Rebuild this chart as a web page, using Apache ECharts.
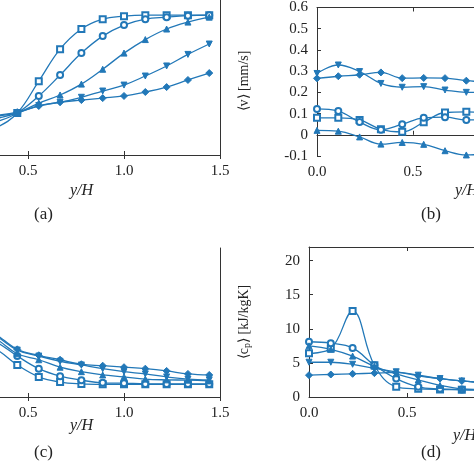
<!DOCTYPE html><html><head><meta charset="utf-8">
<script src="https://cdn.jsdelivr.net/npm/echarts@6/dist/echarts.min.js"></script>
<style>html,body{margin:0;padding:0;background:#fff}#c{width:474px;height:474px}</style></head><body><div id="c"></div>
<script>
const xs=[0,0.111,0.222,0.333,0.444,0.556,0.667,0.778,0.889,1.0,1.111,1.222,1.333,1.444];
const xTicks=[0,0.5,1.0,1.5];
// panel a (arbitrary units, left part cropped)
const aSq=[0.09,0.10,0.12,0.164,0.255,0.448,0.642,0.764,0.824,0.842,0.848,0.848,0.848,0.848];
const aCi=[0.13,0.14,0.16,0.20,0.255,0.358,0.485,0.618,0.721,0.788,0.824,0.836,0.845,0.848];
const aTu=[0.16,0.17,0.19,0.22,0.255,0.315,0.364,0.43,0.52,0.618,0.70,0.764,0.806,0.836];
const aTd=[0.20,0.21,0.22,0.235,0.255,0.30,0.32,0.35,0.388,0.424,0.479,0.54,0.61,0.673];
const aDi=[0.22,0.225,0.23,0.24,0.26,0.297,0.32,0.333,0.345,0.358,0.382,0.412,0.455,0.497];
// panel b  <v> [mm/s]
const bSq=[0.08,0.08,0.07,0.026,0.014,0.059,0.105,0.108,0.10,0.09,0.08,0.08,0.08,0.08];
const bCi=[0.122,0.112,0.06,0.024,0.05,0.08,0.083,0.07,0.07,0.07,0.07,0.07,0.07,0.07];
const bTu=[0.021,0.017,-0.01,-0.044,-0.036,-0.045,-0.075,-0.095,-0.09,-0.08,-0.08,-0.08,-0.08,-0.08];
const bTd=[0.289,0.329,0.298,0.242,0.224,0.227,0.211,0.2,0.2,0.2,0.2,0.2,0.2,0.2];
const bDi=[0.266,0.276,0.283,0.294,0.267,0.268,0.267,0.255,0.25,0.25,0.25,0.25,0.25,0.25];
// panel c (arbitrary units)
const cSq=[0.40,0.39,0.37,0.32,0.215,0.135,0.10,0.088,0.085,0.085,0.085,0.085,0.085,0.085];
const cCi=[0.48,0.46,0.43,0.37,0.275,0.19,0.14,0.113,0.095,0.093,0.088,0.088,0.088,0.088];
const cTu=[0.52,0.50,0.46,0.39,0.29,0.25,0.20,0.17,0.148,0.135,0.12,0.115,0.113,0.108];
const cTd=[0.55,0.53,0.48,0.41,0.315,0.275,0.24,0.215,0.19,0.17,0.155,0.135,0.12,0.115];
const cDi=[0.58,0.55,0.50,0.42,0.32,0.28,0.25,0.22,0.21,0.20,0.19,0.175,0.155,0.148];
// panel d <c_p> [kJ/kgK]
const dSq=[6.4,7.1,12.6,4.66,1.5,1.2,1.1,1.05,1.0,1.0,1.0,1.0,1.0,1.0];
const dCi=[8.1,7.9,7.2,4.66,2.7,1.5,1.2,1.1,1.05,1.0,1.0,1.0,1.0,1.0];
const dTu=[7.5,7.0,6.0,4.5,3.4,2.5,1.7,1.2,1.1,1.05,1.0,1.0,1.0,1.0];
const dTd=[5.1,5.1,4.8,4.2,3.7,3.2,2.7,2.35,2.1,1.9,1.8,1.7,1.6,1.5];
const dDi=[3.2,3.3,3.4,3.5,3.6,3.1,2.7,2.35,2.1,1.95,1.85,1.75,1.65,1.6];

const C='#2278b8';
const F='Liberation Serif';
const syms=['emptyRect','emptyCircle','triangle','path://M0,0 L10,0 L5,10 Z','diamond'];
function mk(idx,arrs){return arrs.map((a,i)=>({type:'line',xAxisIndex:idx,yAxisIndex:idx,smooth:0.4,clip:true,
 data:xs.map((x,j)=>[x,a[j]]),symbol:syms[i],symbolSize:i===4?7:6,showSymbol:true,
 lineStyle:{color:C,width:1.3},itemStyle:{color:C,borderColor:C,borderWidth:1},z:5}));}
// visible x-range of each cropped panel
const xr=[[0.354,1.5],[0,0.818],[0.354,1.5],[0,0.84]];
const grids=[
 {left:0,width:220,top:0,height:155},
 {left:317,width:157,top:6,height:150},
 {left:0,width:220,top:248,height:149},
 {left:309,width:165,top:247,height:150}];
const tick={show:true,inside:true,length:4,lineStyle:{color:'#333'}};
const lab={fontFamily:F,fontSize:15,color:'#222',margin:9};
const line={show:true,lineStyle:{color:'#333',width:1}};
function xa(i,pos,show){return {type:'value',gridIndex:i,position:pos,min:xr[i][0],max:xr[i][1],axisLine:line,
 axisTick:Object.assign({customValues:xTicks},tick),splitLine:{show:false},
 axisLabel:Object.assign({show:show,customValues:xTicks,formatter:v=>v.toFixed(1)},lab)};}
function ya(i,mn,mx,iv,fmt,pos,show,lineShow){return {type:'value',gridIndex:i,position:pos,min:mn,max:mx,interval:iv,
 axisLine:{show:lineShow,lineStyle:{color:'#333',width:1}},axisTick:iv?tick:{show:false},
 splitLine:{show:false},axisLabel:Object.assign({show:show,formatter:fmt,showMaxLabel:iv!==5},lab)};}
const T=(x,y,t,o)=>Object.assign({type:'text',left:x,top:y,style:Object.assign({text:t,font:'15px '+F,fill:'#222'},o||{})});
const opt={animation:false,
 grid:grids.map(g=>Object.assign({show:false},g)),
 xAxis:[xa(0,'bottom',true),xa(1,'bottom',true),xa(2,'bottom',true),xa(3,'bottom',true),
        xa(0,'top',false),xa(1,'top',false),xa(2,'top',false),xa(3,'top',false)],
 yAxis:[ya(0,0,0.94,null,v=>'','left',false,false),
        ya(1,-0.1,0.6,0.1,v=>Math.abs(v)<1e-9?'0':v.toFixed(1),'left',true,true),
        ya(2,0,1,null,v=>'','left',false,false),
        ya(3,0,22,5,v=>String(v),'left',true,true),
        ya(0,0,0.94,null,v=>'','right',false,true),
        ya(2,0,1,null,v=>'','right',false,true)],
 series:[].concat(mk(0,[aSq,aCi,aTu,aTd,aDi]),mk(1,[bSq,bCi,bTu,bTd,bDi]),mk(2,[cSq,cCi,cTu,cTd,cDi]),mk(3,[dSq,dCi,dTu,dTd,dDi])),
 graphic:[
  T(70,183,'y/H',{font:'italic 16px '+F}),T(34,206,'(a)',{font:'17px '+F}),
  T(455,183,'y/H',{font:'italic 16px '+F}),T(421,206,'(b)',{font:'17px '+F}),
  T(70,418,'y/H',{font:'italic 16px '+F}),T(34,444,'(c)',{font:'17px '+F}),
  T(453,428,'y/H',{font:'italic 16px '+F}),T(421,444,'(d)',{font:'17px '+F}),
  {type:'text',x:244,y:81,rotation:Math.PI/2,style:{text:'⟨v⟩ [mm/s]',font:'14px '+F,fill:'#222',align:'center',verticalAlign:'middle'}},
  {type:'text',x:244,y:322,rotation:Math.PI/2,style:{text:'⟨c{s|p}⟩ [kJ/kgK]',font:'14px '+F,fill:'#222',align:'center',verticalAlign:'middle',
    rich:{s:{fontSize:10,fontFamily:F,padding:[6,0,0,0]}}}}
 ]};
const ch=echarts.init(document.getElementById('c'));ch.setOption(opt);
</script></body></html>
